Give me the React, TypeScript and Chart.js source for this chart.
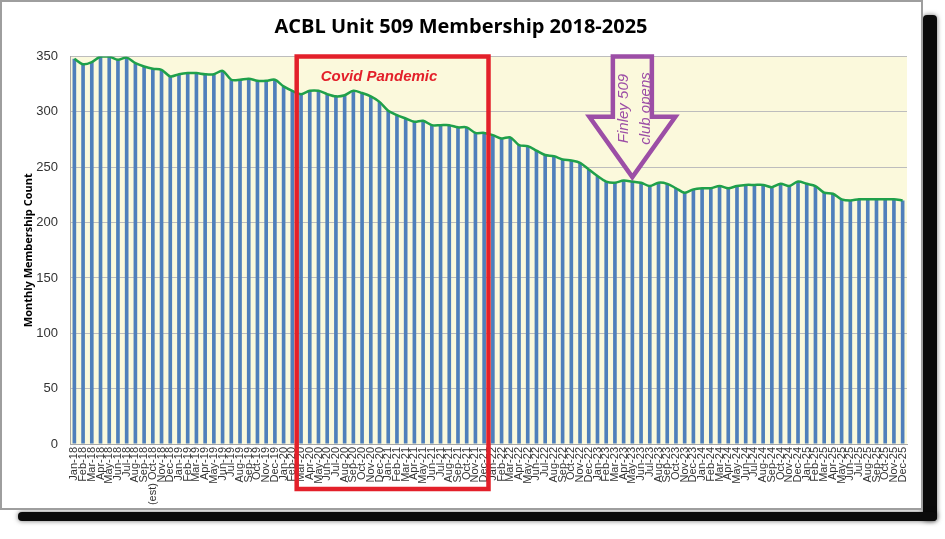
import React, { useEffect, useRef } from "react";
import { Chart, registerables } from "chart.js";

Chart.register(...registerables);

const TITLE = "ACBL Unit 509 Membership 2018-2025";
const Y_TITLE = "Monthly Membership Count";
const COVID_LABEL = "Covid Pandemic";
const FINLEY_LINES = ["Finley 509", "club opens"];

const labels: string[] = [
  "Jan-18", "Feb-18", "Mar-18", "Apr-18", "May-18", "Jun-18", "Jul-18", "Aug-18", "Sep-18", "(est) Oct-18", "Nov-18", "Dec-18",
  "Jan-19", "Feb-19", "Mar-19", "Apr-19", "May-19", "Jun-19", "Jul-19", "Aug-19", "Sep-19", "Oct-19", "Nov-19", "Dec-19",
  "Jan-20", "Feb-20", "Mar-20", "Apr-20", "May-20", "Jun-20", "Jul-20", "Aug-20", "Sep-20", "Oct-20", "Nov-20", "Dec-20",
  "Jan-21", "Feb-21", "Mar-21", "Apr-21", "May-21", "Jun-21", "Jul-21", "Aug-21", "Sep-21", "Oct-21", "Nov-21", "Dec-21",
  "Jan-22", "Feb-22", "Mar-22", "Apr-22", "May-22", "Jun-22", "Jul-22", "Aug-22", "Sep-22", "Oct-22", "Nov-22", "Dec-22",
  "Jan-23", "Feb-23", "Mar-23", "Apr-23", "May-23", "Jun-23", "Jul-23", "Aug-23", "Sep-23", "Oct-23", "Nov-23", "Dec-23",
  "Jan-24", "Feb-24", "Mar-24", "Apr-24", "May-24", "Jun-24", "Jul-24", "Aug-24", "Sep-24", "Oct-24", "Nov-24", "Dec-24",
  "Jan-25", "Feb-25", "Mar-25", "Apr-25", "May-25", "Jun-25", "Jul-25", "Aug-25", "Sep-25", "Oct-25", "Nov-25", "Dec-25",
];

const members2018 = [348, 343, 345, 350, 350, 347, 349, 344, 341, 339, 338, 332];
const members2019 = [334, 335, 335, 334, 334, 337, 329, 329, 330, 328, 328, 329];
const members2020 = [323, 319, 316, 319, 319, 316, 314, 315, 319, 317, 314, 309];
const members2021 = [301, 297, 294, 291, 292, 288, 288, 288, 286, 286, 281, 281];
const members2022 = [279, 276, 277, 270, 269, 265, 261, 260, 257, 256, 254, 248];
const members2023 = [242, 237, 236, 238, 237, 236, 233, 236, 235, 231, 227, 230];
const members2024 = [231, 231, 233, 231, 233, 234, 234, 234, 232, 235, 233, 237];
const members2025 = [235, 233, 227, 226, 221, 220, 221, 221, 221, 221, 221, 220];

const members: number[] = [
  ...members2018, ...members2019, ...members2020, ...members2021,
  ...members2022, ...members2023, ...members2024, ...members2025,
];

const yTicks = { min: 0, max: 350, step: 50 };

const COVID_START = "Mar-20";
const COVID_END = "Dec-21";
const FINLEY_MONTH = "May-23";

const PLOT_BG = "#FBF9DC";
const RED = "#E3202A";
const PURPLE = "#9C4EA6";

const framePlugin = {
  id: "frame",
  beforeDraw(chart: any) {
    const ctx = chart.ctx as CanvasRenderingContext2D;
    const W = chart.width;
    const H = chart.height;
    ctx.save();
    ctx.fillStyle = "#ffffff";
    ctx.fillRect(0, 0, W, H);
    // drop shadow
    ctx.shadowColor = "rgba(0,0,0,0.55)";
    ctx.shadowBlur = 5;
    ctx.fillStyle = "#0b0b0b";
    ctx.beginPath();
    (ctx as any).roundRect(923, 15, 14, 506, 4);
    ctx.fill();
    ctx.beginPath();
    (ctx as any).roundRect(18, 512, 919, 9, 4);
    ctx.fill();
    ctx.shadowBlur = 0;
    ctx.shadowColor = "transparent";
    // card
    ctx.fillStyle = "#ffffff";
    ctx.fillRect(1, 1, 921, 508);
    ctx.strokeStyle = "#9E9E9E";
    ctx.lineWidth = 2;
    ctx.strokeRect(1, 1, 921, 508);
    // plot background
    const { left, top, right, bottom } = chart.chartArea;
    ctx.fillStyle = PLOT_BG;
    ctx.fillRect(left, top, right - left, bottom - top);
    // title
    ctx.fillStyle = "#000000";
    ctx.font = 'bold 20px "Open Sans"';
    ctx.textAlign = "center";
    ctx.textBaseline = "middle";
    ctx.fillText(TITLE, 461, 27);
    ctx.restore();
  },
};

const annotationPlugin = {
  id: "annotations",
  afterDraw(chart: any) {
    const ctx = chart.ctx as CanvasRenderingContext2D;
    const x = chart.scales.x;
    const y = chart.scales.y;
    const area = chart.chartArea;
    ctx.save();

    // Covid box
    const i0 = labels.indexOf(COVID_START);
    const i1 = labels.indexOf(COVID_END);
    const bx0 = x.getPixelForValue(i0 - 0.5);
    const bx1 = x.getPixelForValue(i1 + 0.5);
    const by0 = y.getPixelForValue(yTicks.max);
    const by1 = area.bottom + 45;
    ctx.strokeStyle = RED;
    ctx.lineWidth = 4.5;
    ctx.strokeRect(bx0, by0, bx1 - bx0, by1 - by0);
    ctx.fillStyle = RED;
    ctx.font = 'italic bold 15px "Liberation Sans"';
    ctx.textAlign = "left";
    ctx.textBaseline = "alphabetic";
    ctx.fillText(COVID_LABEL, bx0 + 24, by0 + 24.5);

    // Finley arrow
    const fi = labels.indexOf(FINLEY_MONTH);
    const tx = x.getPixelForValue(fi);
    const tipY = y.getPixelForValue(241);
    const wingY = y.getPixelForValue(295.5);
    const topY = y.getPixelForValue(350);
    const shaft = 19.5;
    const wing = 43;
    ctx.beginPath();
    ctx.moveTo(tx - shaft, topY);
    ctx.lineTo(tx + shaft, topY);
    ctx.lineTo(tx + shaft, wingY);
    ctx.lineTo(tx + wing, wingY);
    ctx.lineTo(tx, tipY);
    ctx.lineTo(tx - wing, wingY);
    ctx.lineTo(tx - shaft, wingY);
    ctx.closePath();
    ctx.fillStyle = PLOT_BG;
    ctx.fill();
    ctx.strokeStyle = PURPLE;
    ctx.lineWidth = 4.5;
    ctx.lineJoin = "miter";
    ctx.stroke();

    ctx.translate(tx, y.getPixelForValue(303));
    ctx.rotate(-Math.PI / 2);
    ctx.fillStyle = PURPLE;
    ctx.font = 'italic 15px "Liberation Sans"';
    ctx.textAlign = "center";
    ctx.fillText(FINLEY_LINES[0], 0, -4.5);
    ctx.fillText(FINLEY_LINES[1], 0, 17.5);
    ctx.restore();
  },
};

export default function App() {
  const ref = useRef<HTMLCanvasElement>(null);
  useEffect(() => {
    const chart = new Chart(ref.current as HTMLCanvasElement, {
      type: "bar",
      data: {
        labels,
        datasets: [
          {
            type: "line",
            label: "Members (line)",
            data: members,
            borderColor: "#1FA04A",
            borderWidth: 2.5,
            pointRadius: 0,
            tension: 0.3,
            fill: false,
            order: 0,
          } as any,
          {
            type: "bar",
            label: "Members",
            data: members,
            backgroundColor: "#4F7FBB",
            barPercentage: 0.42,
            categoryPercentage: 1,
            order: 1,
          },
        ],
      },
      options: {
        responsive: false,
        animation: false,
        devicePixelRatio: 1,
        layout: { padding: { top: 56.5, right: 38, bottom: 0, left: 0 } },
        plugins: {
          legend: { display: false },
          tooltip: { enabled: false },
          title: { display: false },
        },
        scales: {
          x: {
            grid: { display: false, drawTicks: false },
            border: { display: true, color: "#A8A8A8" },
            ticks: {
              autoSkip: false,
              maxRotation: 90,
              minRotation: 90,
              padding: 3,
              color: "#333333",
              font: { family: '"Liberation Sans"', size: 11 },
            },
            afterFit: (scale: any) => {
              scale.height = 95;
            },
          },
          y: {
            min: yTicks.min,
            max: yTicks.max,
            ticks: {
              stepSize: yTicks.step,
              padding: 12,
              color: "#333333",
              font: { family: '"Liberation Sans"', size: 13 },
            },
            grid: { color: "#BDBDBD", drawTicks: false, lineWidth: 1 },
            border: { display: true, color: "#A8A8A8" },
            title: {
              display: true,
              text: Y_TITLE,
              color: "#000000",
              font: { family: '"Open Sans"', size: 11, weight: "bold" },
              padding: { top: 22, bottom: 0 },
            },
            afterFit: (scale: any) => {
              scale.width = 70;
            },
          },
        },
      },
      plugins: [framePlugin, annotationPlugin],
    });
    return () => chart.destroy();
  }, []);
  return (
    <div style={{ position: "absolute", left: 0, top: 0, width: 945, height: 539 }}>
      <canvas ref={ref} width={945} height={539} style={{ display: "block" }} />
    </div>
  );
}
